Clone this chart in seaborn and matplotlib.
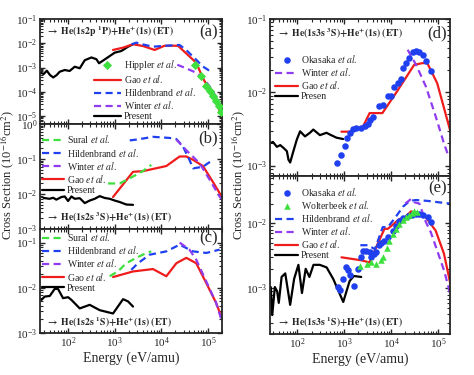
import matplotlib
matplotlib.use("Agg")
import matplotlib.pyplot as plt
from matplotlib.ticker import LogLocator, NullFormatter
import seaborn as sns

# ---------------- data ----------------
# panel (a)  He(1s2p 1P)
a_present_x = [26, 30, 35, 41, 48, 57, 66, 85, 108, 139, 178, 228, 317, 405, 461, 665, 1000, 1390, 1930, 2460]
a_present_y = [6.1e-4, 5.4e-4, 7.4e-4, 4.9e-4, 3.9e-4, 4.9e-4, 6.7e-4, 7.9e-4, 7.2e-4, 1.08e-3, 9.3e-4, 2.0e-3,
               2.6e-3, 2.2e-3, 1.5e-3, 2.4e-3, 4.1e-3, 4.8e-3, 7.2e-3, 9.1e-3]
a_gao_x = [920, 1510, 2460, 4040, 7200, 11700, 22700, 56000, 78000, 127000, 195000]
a_gao_y = [5.3e-3, 6.6e-3, 9.1e-3, 7.7e-3, 5.3e-3, 7.9e-3, 7.9e-3, 1.58e-3, 3.6e-4, 7.3e-5, 1.1e-5]
a_hild_x = [2300, 2900, 4500, 6600, 12000, 24600, 34000, 52000, 78000, 116000]
a_hild_y = [9.0e-3, 1.06e-2, 8.5e-3, 7.2e-3, 7.9e-3, 8.5e-3, 5.3e-3, 2.4e-3, 1.1e-3, 6.7e-4]
a_winter_x = [22000, 34000, 52000, 78000, 110000, 160000, 200000]
a_winter_y = [1.3e-3, 9.3e-4, 6.5e-4, 3.8e-4, 1.6e-4, 5e-5, 2e-5]
a_hippler_x = [52000, 72000, 91000, 110000, 130000, 150000, 170000, 190000]
a_hippler_y = [1.3e-3, 4.5e-4, 1.8e-4, 1.1e-4, 6.5e-5, 4.2e-5, 2.6e-5, 1.5e-5]

# panel (b)  He(1s2s 3S)
b_present_x = [30, 40, 48, 56, 72, 85, 100, 118, 139, 178, 228, 291, 373, 477, 611, 781, 1000, 1280, 1780, 2470]
b_present_y = [7.7e-3, 7.3e-3, 7.8e-3, 6.9e-3, 8.2e-3, 8.5e-3, 6.3e-3, 8.5e-3, 7.3e-3, 7.6e-3, 5.5e-3, 6.5e-3,
               7.3e-3, 8.7e-3, 7.7e-3, 7.3e-3, 6.5e-3, 5.9e-3, 5.0e-3, 4.9e-3]
b_gao_x = [920, 2470, 4050, 12800, 24700, 34300, 47700, 78000, 128000, 210000]
b_gao_y = [8.2e-3, 0.043, 0.045, 0.063, 0.118, 0.118, 0.095, 0.063, 0.022, 7.3e-3]
b_sural_x = [720, 1280, 2100, 4000, 6100]
b_sural_y = [0.02, 0.02, 0.028, 0.045, 0.068]
b_hild_x = [2100, 3000, 6600, 15000, 21000, 29000, 40000, 48000, 78000, 128000]
b_hild_y = [0.34, 0.36, 0.43, 0.40, 0.37, 0.23, 0.095, 0.054, 0.06, 0.095]
b_winter_x = [21000, 34000, 66000, 110000, 180000, 215000]
b_winter_y = [0.36, 0.18, 0.076, 0.025, 8.2e-3, 6.5e-3]

# panel (c)  He(1s2s 1S)
c_present_x = [26.8, 31.6, 40.5, 51.8, 61, 78, 100, 118, 178, 291, 477, 921, 1510, 1930, 2470]
c_present_y = [5.4e-3, 6.4e-3, 6.6e-3, 9.5e-3, 9.4e-3, 5.9e-3, 6.2e-3, 5.4e-3, 3.5e-3, 4.2e-3, 3.2e-3, 2.7e-3,
               5.6e-3, 5.0e-3, 3.85e-3]
c_gao_x = [921, 2470, 6620, 12800, 21000, 34300, 56000, 92000, 150000, 193000]
c_gao_y = [0.0173, 0.023, 0.026, 0.018, 0.035, 0.046, 0.035, 0.0127, 4.6e-3, 2.3e-3]
c_sural_x = [780, 1170, 1770, 2900, 4800, 6100]
c_sural_y = [0.018, 0.023, 0.035, 0.046, 0.059, 0.064]
c_hild_x = [2270, 3160, 5620, 12800, 24700, 47700, 92000, 178000]
c_hild_y = [0.025, 0.035, 0.054, 0.064, 0.09, 0.064, 0.059, 0.07]
c_winter_x = [24700, 40000, 56000, 92000, 150000, 193000]
c_winter_y = [0.1, 0.07, 0.042, 0.0138, 4.6e-3, 2.0e-3]

# panel (d)  He(1s3s 3S)
d_okasaka_x = [703, 869, 1024, 1147, 1306, 1536, 1807, 2306, 2716, 3195, 3470, 4070, 5460, 6850, 8470, 10000,
               11700, 13800, 16200, 18200, 20700, 24400, 28700, 33800, 39700, 46700, 55000, 70000]
d_okasaka_y = [1.09e-3, 1.41e-3, 1.83e-3, 2.4e-3, 2.78e-3, 3.16e-3, 3.3e-3, 3.3e-3, 3.5e-3, 3.7e-3, 4.2e-3,
               4.6e-3, 6.4e-3, 6.8e-3, 8.8e-3, 9.0e-3, 0.0117, 0.0133, 0.0151, 0.0213, 0.025, 0.029, 0.035,
               0.037, 0.036, 0.032, 0.027, 0.0198]
d_winter_x = [22500, 34000, 55000, 89000, 134000, 170000]
d_winter_y = [0.038, 0.0237, 0.012, 4.7e-3, 2.0e-3, 1.3e-3]
d_gao_x = [869, 1306, 2500, 3470, 6500, 12700, 31000, 46700, 59000, 96000, 187000]
d_gao_y = [2.9e-3, 2.9e-3, 3.4e-3, 5.2e-3, 5.2e-3, 9.8e-3, 0.0237, 0.025, 0.025, 0.0133, 2.8e-3]
d_present_x = [27, 30, 36.5, 43, 50.5, 59.5, 64.5, 70, 82, 97, 114, 145, 185, 218, 302, 418, 492, 682, 943]
d_present_y = [2.04e-3, 2.1e-3, 1.8e-3, 1.9e-3, 1.74e-3, 1.57e-3, 1.2e-3, 1.1e-3, 1.57e-3, 2.26e-3, 2.93e-3,
               2.5e-3, 2.8e-3, 3.1e-3, 2.6e-3, 2.8e-3, 2.65e-3, 2.4e-3, 2.3e-3]

# panel (e)  He(1s3s 1S)
e_okasaka_x = [740, 830, 940, 1100, 1180, 1300, 1600, 1950, 2300, 2550, 2900, 3450, 3750, 4300, 4800, 5400,
               6100, 7200, 8500, 10800, 12700, 15000, 17600, 22500, 28000, 34000, 40000, 47000, 60000, 70000]
e_okasaka_y = [1.06e-3, 9.4e-4, 1.4e-3, 2.1e-3, 1.9e-3, 1.6e-3, 1.1e-3, 2.0e-3, 3.0e-3, 3.8e-3, 3.8e-3, 3.6e-3,
               3.0e-3, 3.4e-3, 3.6e-3, 4.6e-3, 5.0e-3, 5.4e-3, 6.1e-3, 7.7e-3, 9.2e-3, 0.011, 0.012, 0.013,
               0.0135, 0.014, 0.0138, 0.0135, 0.0126, 0.0104]
e_wolter_x = [2130, 3000, 3700, 4800, 6100, 6800, 8000, 9200, 10800, 12700, 15000, 17600, 20700, 24400, 27500,
              31000, 36000]
e_wolter_y = [2.2e-3, 2.4e-3, 2.5e-3, 2.4e-3, 2.7e-3, 3.0e-3, 4.1e-3, 5.4e-3, 6.9e-3, 8.2e-3, 9.8e-3, 0.0112,
              0.0123, 0.0135, 0.0145, 0.0152, 0.0147]
e_hild_x = [2200, 3200, 4500, 6600, 8500, 12000, 18000, 25000, 34000, 60000, 100000, 186000]
e_hild_y = [4.6e-3, 4.6e-3, 4.0e-3, 8.7e-3, 8.7e-3, 0.012, 0.018, 0.022, 0.0227, 0.022, 0.021, 0.02]
e_winter_x = [20000, 26500, 31000, 40000, 55000, 70000, 96000, 134000, 170000, 186000]
e_winter_y = [0.02, 0.0235, 0.021, 0.02, 0.0104, 7.3e-3, 3.8e-3, 1.9e-3, 1.0e-3, 6.6e-4]
e_gao_x = [870, 2300, 3450, 4800, 7200, 8500, 15000, 19000, 26500, 40000, 55000, 89000, 134000, 186000]
e_gao_y = [3.0e-3, 2.7e-3, 2.5e-3, 4.3e-3, 8.2e-3, 8.2e-3, 0.0116, 0.012, 0.0152, 0.0139, 0.0123, 7.7e-3,
           3.4e-3, 1.12e-3]
e_present_x = [27, 29, 33, 37, 40, 46, 55, 70, 85, 105, 125, 150, 180, 220, 300, 420, 580, 950, 1300, 1600, 2300]
e_present_y = [1.05e-3, 3.9e-4, 1.05e-3, 9e-4, 6e-4, 1.5e-3, 1.7e-3, 5.6e-4, 1.4e-3, 2.3e-3, 8.5e-4, 2.0e-3,
               1.5e-3, 2.3e-3, 2.3e-3, 2.1e-3, 1.4e-3, 6.2e-4, 1.3e-3, 1.55e-3, 1.5e-3]

titles = {
    "a": r"$\mathbf{\rightarrow\ He(1s2p\ ^{1}P){+}He^{+}(1s)\ (ET)}$",
    "b": r"$\mathbf{\rightarrow\ He(1s2s\ ^{3}S){+}He^{+}(1s)\ (ET)}$",
    "c": r"$\mathbf{\rightarrow\ He(1s2s\ ^{1}S){+}He^{+}(1s)\ (ET)}$",
    "d": r"$\mathbf{\rightarrow\ He(1s3s\ ^{3}S){+}He^{+}(1s)\ (ET)}$",
    "e": r"$\mathbf{\rightarrow\ He(1s3s\ ^{1}S){+}He^{+}(1s)\ (ET)}$",
}

# ---------------- style ----------------
sns.set_style("ticks")
plt.rcParams['font.family'] = ['Liberation Serif', 'DejaVu Serif']
plt.rcParams['mathtext.fontset'] = 'stix'
plt.rcParams['axes.linewidth'] = 1.3

RED = '#f01c1c'
BLUE = '#2040f0'
GREEN = '#3ee03e'
PURPLE = '#8f3cf0'
BLACK = 'black'
DASH = (0, (3.2, 2.0))

ETAL = r" $\it{et\ al.}$"

fig = plt.figure(figsize=(4.74, 3.75), dpi=100)

L, W = 40 / 474, 182 / 474
R, WR = 270 / 474, 180 / 474


def box(top, bot):
    return [1 - bot / 375, (bot - top) / 375]


ba, bb, bc = box(19, 124), box(124, 229), box(229, 333)
bd, be = box(19, 176), box(176, 334)
ax_a = fig.add_axes([L, ba[0], W, ba[1]])
ax_b = fig.add_axes([L, bb[0], W, bb[1]])
ax_c = fig.add_axes([L, bc[0], W, bc[1]])
ax_d = fig.add_axes([R, bd[0], WR, bd[1]])
ax_e = fig.add_axes([R, be[0], WR, be[1]])

for ax in (ax_a, ax_b, ax_c, ax_d, ax_e):
    ax.set_xscale('log')
    ax.set_yscale('log')


def line(ax, x, y, color, ls='-', label=None, lw=1.6):
    sns.lineplot(x=x, y=y, ax=ax, color=color, linestyle=ls, linewidth=lw, label=label,
                 estimator=None, errorbar=None, sort=False)


def dots(ax, x, y, color, marker, s, label):
    sns.scatterplot(x=x, y=y, ax=ax, color=color, marker=marker, s=s, linewidth=0, label=label, zorder=3)


# (a)
line(ax_a, a_present_x, a_present_y, BLACK, label="Present")
line(ax_a, a_gao_x, a_gao_y, RED, label="Gao" + ETAL)
line(ax_a, a_hild_x, a_hild_y, BLUE, DASH, label="Hildenbrand" + ETAL)
line(ax_a, a_winter_x, a_winter_y, PURPLE, DASH, label="Winter" + ETAL)
dots(ax_a, a_hippler_x, a_hippler_y, GREEN, 'D', 22, "Hippler" + ETAL)

# (b)
line(ax_b, b_present_x, b_present_y, BLACK, label="Present")
line(ax_b, b_gao_x, b_gao_y, RED, label="Gao" + ETAL)
line(ax_b, b_sural_x, b_sural_y, GREEN, DASH, label="Sural" + ETAL)
line(ax_b, b_hild_x, b_hild_y, BLUE, DASH, label="Hildenbrand" + ETAL)
line(ax_b, b_winter_x, b_winter_y, PURPLE, DASH, label="Winter" + ETAL)

# (c)
line(ax_c, c_present_x, c_present_y, BLACK, label="Present")
line(ax_c, c_gao_x, c_gao_y, RED, label="Gao" + ETAL)
line(ax_c, c_sural_x, c_sural_y, GREEN, DASH, label="Sural" + ETAL)
line(ax_c, c_hild_x, c_hild_y, BLUE, DASH, label="Hildenbrand" + ETAL)
line(ax_c, c_winter_x, c_winter_y, PURPLE, DASH, label="Winter" + ETAL)

# (d)
line(ax_d, d_present_x, d_present_y, BLACK, label="Presen")
line(ax_d, d_gao_x, d_gao_y, RED, label="Gao" + ETAL)
line(ax_d, d_winter_x, d_winter_y, PURPLE, DASH, label="Winter" + ETAL)
dots(ax_d, d_okasaka_x, d_okasaka_y, BLUE, 'o', 22, "Okasaka" + ETAL)

# (e)
line(ax_e, e_present_x, e_present_y, BLACK, label="Present")
line(ax_e, e_gao_x, e_gao_y, RED, label="Gao" + ETAL)
line(ax_e, e_hild_x, e_hild_y, BLUE, DASH, label="Hildenbrand" + ETAL)
line(ax_e, e_winter_x, e_winter_y, PURPLE, DASH, label="Winter" + ETAL)
dots(ax_e, e_okasaka_x, e_okasaka_y, BLUE, 'o', 22, "Okasaka" + ETAL)
dots(ax_e, e_wolter_x, e_wolter_y, GREEN, '^', 22, "Wolterbeek" + ETAL)

orders = {
    ax_a: ["Hippler", "Gao", "Hildenbrand", "Winter", "Present"],
    ax_b: ["Sural", "Hildenbrand", "Winter", "Gao", "Present"],
    ax_c: ["Sural", "Hildenbrand", "Winter", "Gao", "Present"],
    ax_d: ["Okasaka", "Winter", "Gao", "Presen"],
    ax_e: ["Okasaka", "Wolterbeek", "Hildenbrand", "Winter", "Gao", "Present"],
}
anchors = {ax_a: (0.29, 0.64), ax_b: (0.005, 0.92), ax_c: (0.005, 0.99),
           ax_d: (0.025, 0.79), ax_e: (0.025, 0.945)}
hlen = {ax_a: 2.8, ax_b: 2.3, ax_c: 2.3, ax_d: 2.3, ax_e: 2.3}

for ax, order in orders.items():
    h, l = ax.get_legend_handles_labels()
    d = {lab.split(" $")[0]: hh for hh, lab in zip(h, l)}
    full = {lab.split(" $")[0]: lab for lab in l}
    ax.legend([d[k] for k in order], [full[k] for k in order], loc='upper left',
              bbox_to_anchor=anchors[ax], frameon=False, fontsize=7, handlelength=hlen[ax],
              handletextpad=0.3, labelspacing=0.12, borderpad=0.1, borderaxespad=0)

# limits
ax_a.set_ylim(4.7e-6, 0.1)
ax_b.set_ylim(1e-3, 1)
ax_c.set_ylim(1e-3, 0.2)
ax_d.set_ylim(7.2e-4, 0.1)
ax_e.set_ylim(2e-4, 0.053)
for ax in (ax_a, ax_b, ax_c):
    ax.set_xlim(25, 2e5)
for ax in (ax_d, ax_e):
    ax.set_xlim(26, 1.8e5)

for ax in (ax_a, ax_b, ax_c, ax_d, ax_e):
    for axis in (ax.xaxis, ax.yaxis):
        axis.set_major_locator(LogLocator(base=10, numticks=20))
        axis.set_minor_locator(LogLocator(base=10, subs=range(2, 10), numticks=20))
        axis.set_minor_formatter(NullFormatter())
    ax.tick_params(which='both', direction='in', top=True, right=True, labelsize=8, pad=2)
    ax.tick_params(which='major', length=3.5, width=1)
    ax.tick_params(which='minor', length=2, width=0.8)
    ax.set_xlabel('')
    ax.set_ylabel('')
for ax in (ax_a, ax_b, ax_d):
    ax.tick_params(labelbottom=False)

ax_c.set_xlabel('Energy (eV/amu)', fontsize=10, labelpad=1)
ax_e.set_xlabel('Energy (eV/amu)', fontsize=10, labelpad=1)

# panel texts
ax_a.text(0.035, 0.876, titles["a"], transform=ax_a.transAxes, va='center', fontsize=7)
ax_b.text(0.035, 0.105, titles["b"], transform=ax_b.transAxes, va='center', fontsize=7)
ax_c.text(0.035, 0.096, titles["c"], transform=ax_c.transAxes, va='center', fontsize=7)
ax_d.text(0.037, 0.909, titles["d"], transform=ax_d.transAxes, va='center', fontsize=7)
ax_e.text(0.037, 0.068, titles["e"], transform=ax_e.transAxes, va='center', fontsize=7)
for ax, lab, yy in ((ax_a, '(a)', 0.876), (ax_b, '(b)', 0.867), (ax_c, '(c)', 0.913),
                    (ax_d, '(d)', 0.911), (ax_e, '(e)', 0.924)):
    ax.text(0.98, yy, lab, transform=ax.transAxes, ha='right', va='center', fontsize=12)

ylab = r"Cross Section (10$^{-16}$cm$^{2}$)"
fig.text(0.016, 0.533, ylab, rotation=90, ha='center', va='center', fontsize=9)
fig.text(0.503, 0.533, ylab, rotation=90, ha='center', va='center', fontsize=9)

fig.savefig('out.png', dpi=100)
